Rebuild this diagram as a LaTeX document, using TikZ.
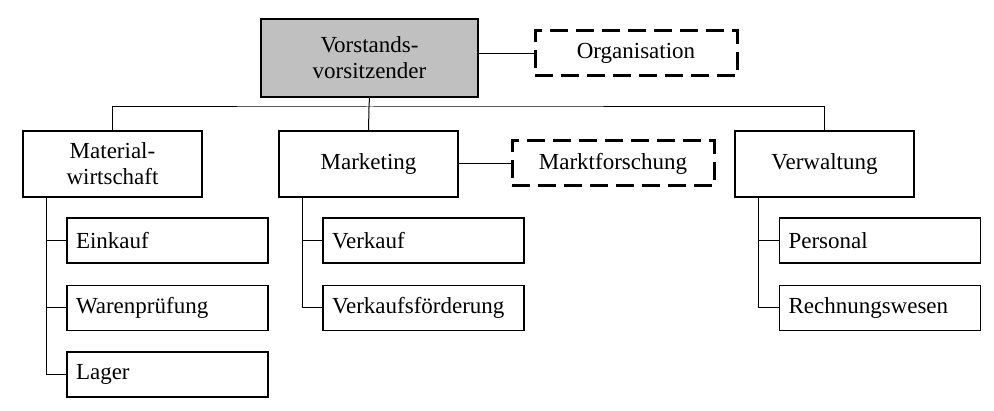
\documentclass[tikz,border=0pt]{standalone}
\usepackage{fontspec}
\setmainfont{Liberation Serif}
\definecolor{boxgrey}{RGB}{192,192,192}
\begin{document}
\begin{tikzpicture}[x=1pt,y=-1pt,
  every node/.style={font=\fontsize{23}{26}\selectfont},
  mainbox/.style={draw,line width=1.1pt,minimum width=179pt,minimum height=66pt,inner sep=0pt,align=center},
  dashbox/.style={draw,line width=3pt,dash pattern=on 18pt off 8pt,minimum width=202pt,minimum height=45pt,inner sep=0pt},
  subbox/.style={draw,line width=1.1pt,text width=183pt,inner xsep=9pt,inner ysep=0pt,minimum height=45pt,align=left},
  conn/.style={line width=1pt}]
\useasboundingbox (0,0) rectangle (994,411);
\node[mainbox,fill=boxgrey,minimum width=217pt,minimum height=78pt] (top) at (369.5,58) {Vorstands-\\vorsitzender};
\node[dashbox] (org) at (636,53.5) {Organisation};
\node[mainbox] (mat) at (112.5,164) {Material-\\wirtschaft};
\node[mainbox] (mkt) at (368.5,164) {Marketing};
\node[dashbox] (mf) at (613,163.5) {Marktforschung};
\node[mainbox] (ver) at (824.5,164) {Verwaltung};
\node[subbox] (ek) at (167.5,240.5) {Einkauf};
\node[subbox] (wp) at (167.5,308) {Warenprüfung};
\node[subbox] (lg) at (167.5,374.5) {Lager};
\node[subbox] (vk) at (423.5,240.5) {Verkauf};
\node[subbox] (vf) at (423.5,308) {Verkaufsförderung};
\node[subbox] (ps) at (880,240.5) {Personal};
\node[subbox] (rw) at (880,308) {Rechnungswesen};
\coordinate (bus) at (369,107);
\draw[conn] (org.west -| top.east) -- (org.west);
\draw[conn] (mf.west -| mkt.east) -- (mf.west);
\draw[conn] (top.south) -- (bus);
\draw[conn] (mat.north) |- (bus) -| (ver.north);
\draw[conn] (bus) -- (mkt.north);
\coordinate (ms) at (46,197);
\coordinate (ks) at (302,197);
\coordinate (vs) at (758,197);
\draw[conn] (ms) |- (lg.west);
\draw[conn] (ek.west) -- (ek.west -| ms);
\draw[conn] (wp.west) -- (wp.west -| ms);
\draw[conn] (ks) |- (vf.west);
\draw[conn] (vk.west) -- (vk.west -| ks);
\draw[conn] (vs) |- (rw.west);
\draw[conn] (ps.west) -- (ps.west -| vs);
\end{tikzpicture}
\end{document}
